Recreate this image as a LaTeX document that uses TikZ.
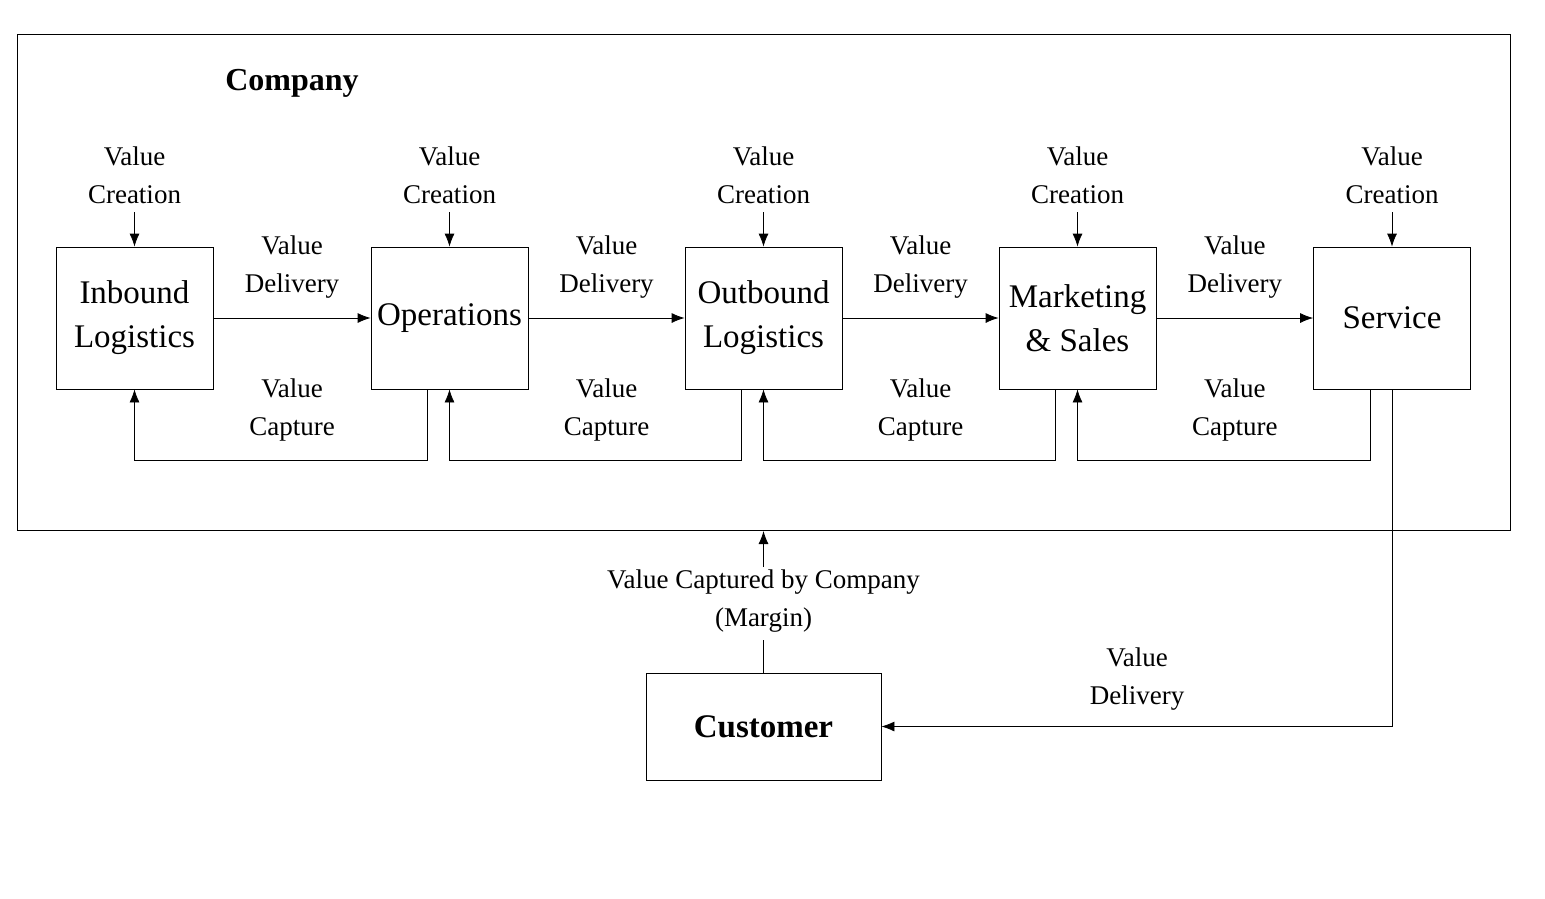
\documentclass[tikz,border=0pt]{standalone}
\usepackage{fontspec}
\setmainfont{Liberation Serif}
\usetikzlibrary{arrows.meta}
\begin{document}
\begin{tikzpicture}[x=1pt,y=-1pt,
 box/.style={draw,line width=0.8pt,minimum width=157pt,minimum height=142pt,inner sep=0pt,align=center,font=\fontsize{33}{44}\selectfont},
 lab/.style={align=center,font=\fontsize{27}{38}\selectfont,inner sep=0pt},
 arr/.style={-{Latex[length=13pt,width=10pt]},line width=0.8pt},
 ln/.style={line width=0.8pt}]
\useasboundingbox (0,0) rectangle (1545,898);
\draw[ln] (17,34) rectangle (1510,530);
\node[font=\fontsize{32}{36}\selectfont\bfseries] (co) at (292,83) {Company};
\foreach \n/\x/\t in {a/134.5/{Inbound\\Logistics},b/449.5/{Operations},c/763.5/{Outbound\\Logistics},d/1077.5/{Marketing\\\& Sales},e/1392/{Service}}{
  \node[box] (\n) at (\x,318) {\t};
  \node[lab] (vc\n) at (\x,175) {Value\\Creation};
  \coordinate (s\n) at (\x,212);
  \draw[arr] (s\n) -- (\n.north);
}
\foreach \p/\q/\xa/\xb in {a/b/134.5/449.5,b/c/449.5/763.5,c/d/763.5/1077.5,d/e/1077.5/1392}{
  \draw[arr] (\p) -- (\q);
  \node[lab] (vd\p) at ({(\xa+\xb)/2},267) {Value\\Delivery};
  \node[lab] (cp\p) at ({(\xa+\xb)/2},410) {Value\\Capture};
  \coordinate (o\q) at (\xb-22,389);
  \draw[arr] (o\q) |- (\xa,460) -- (\p.south);
}
\node[draw,line width=0.8pt,minimum width=235pt,minimum height=107pt,font=\fontsize{33}{40}\selectfont\bfseries] (cu) at (763.5,726.5) {Customer};
\node[lab] (m) at (763.5,601) {Value Captured by Company\\(Margin)};
\draw[ln] (cu.north) -- (763.5,640);
\coordinate (ct) at (763.5,567);
\draw[arr] (ct) -- (763.5,531);
\draw[arr] (e.south) |- (cu.east);
\node[lab] (vdc) at (1137,679) {Value\\Delivery};
\end{tikzpicture}
\end{document}
